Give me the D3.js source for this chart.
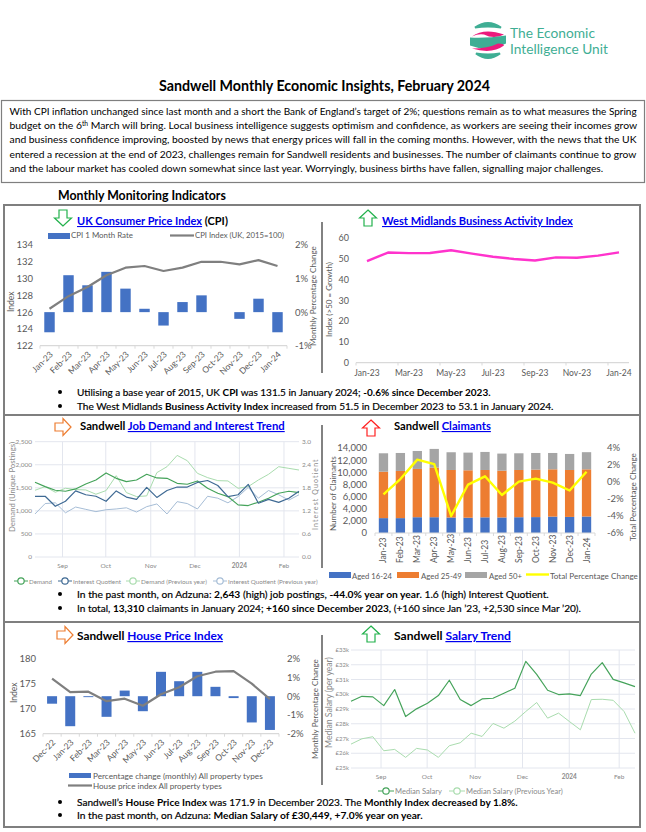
<!DOCTYPE html>
<html><head><meta charset="utf-8">
<script src="https://cdn.jsdelivr.net/npm/d3@7"></script>
<style>html,body{margin:0;background:#fff}svg{display:block}text{font-family:Lato,"Open Sans",sans-serif}</style>
</head><body><svg id="c" width="646" height="832"></svg>
<script>
const monthsA=["Jan-23","Feb-23","Mar-23","Apr-23","May-23","Jun-23","Jul-23","Aug-23","Sep-23","Oct-23","Nov-23","Dec-23","Jan-24"];
const monthsB=["Dec-22","Jan-23","Feb-23","Mar-23","Apr-23","May-23","Jun-23","Jul-23","Aug-23","Sep-23","Oct-23","Nov-23","Dec-23"];
const cpiRate=[-0.6,1.1,0.8,1.2,0.7,0.1,-0.4,0.3,0.5,0,-0.2,0.4,-0.6];
const cpiIndex=[126.4,127.9,129.0,130.4,131.3,131.5,130.9,131.3,132.0,132.0,131.7,132.2,131.5];
const activity=[48.9,53,52.7,52.8,54.1,52.5,51,49.9,49.2,50.7,50.5,51.5,53.1];
const demand=[1620,1526,1447,1426,1476,1584,1670,1822,1706,1634,1670,1793,1714,1706,1598,1577,1649,1490,1382,1310,1130,1116,1188,1274,1382,1426,1397];
const demandPrev=[1447,1526,1404,1490,1462,1454,1361,1440,1764,1397,1310,1325,1829,1958,2203,2088,1814,1721,1656,1649,1490,1526,1670,1793,1958,1922,1886];
const quotient=[1.58,1.58,1.32,1.45,1.72,1.62,1.58,1.45,1.72,1.56,1.50,1.81,1.55,1.73,1.82,1.82,1.94,1.99,1.86,1.57,1.62,1.89,1.40,1.50,1.42,1.53,1.71];
const quotientPrev=[1.12,1.39,1.41,1.15,1.30,1.24,1.18,1.23,1.25,1.28,1.17,1.31,1.38,1.12,1.44,1.39,1.25,1.58,1.53,1.41,1.57,1.81,1.53,1.73,1.62,1.48,1.62];
const aged1624=[2450,2450,2600,2600,2550,2520,2580,2560,2600,2620,2700,2650,2720];
const aged2549=[7650,7770,7950,8170,7830,7810,7800,7710,7780,7820,7790,7730,7770];
const aged50=[3030,2960,2960,3080,2920,2910,2970,2810,2750,2740,2690,2640,2820];
const claimPct=[-1.45,0.35,2.63,2.1,-4.0,-0.3,0.67,-1.53,0.04,0.4,-0.08,-1.0,1.2];
const hpiPct=[-0.4,-1.6,-0.05,-1.1,0.3,-0.8,1.3,0.8,1.3,0.5,-0.1,-1.4,-1.8];
const hpiIndex=[176,173.3,173.4,171.5,172,170.6,172.9,174.3,176.5,177.4,177.5,175,171.9];
const salary=[29.53,29.86,29.82,29.23,30.32,28.49,29.01,29.39,29.91,30.95,29.64,29.23,29.68,29.73,30.07,30.41,32.23,31.35,30.27,29.98,30.02,29.91,31.37,32.14,31.01,30.77,30.52];
const salaryPrev=[26.62,26.98,27.12,26.17,26.26,25.72,26.33,26.22,25.72,26.51,26.71,27.36,27.14,28.02,27.70,28.18,28.83,29.44,28.38,28.72,28.15,27.59,29.64,29.66,29.59,28.83,27.36];
const weeklyMonths=["Sep","Oct","Nov","Dec","2024","Feb"];
const paragraph=[["With CPI inflation unchanged since last month and a short the Bank of England\u2019s target of 2%; questions remain as to what measures the Spring"],
["budget on the 6","th"," March will bring. Local business intelligence suggests optimism and confidence, as workers are seeing their incomes grow"],
["and business confidence improving, boosted by news that energy prices will fall in the coming months. However, with the news that the UK"],
["entered a recession at the end of 2023, challenges remain for Sandwell residents and businesses. The number of claimants continue to grow"],
["and the labour market has cooled down somewhat since last year. Worryingly, business births have fallen, signalling major challenges."]];

const svg=d3.select("#c");
const GREY="#595959",BLUE="#4472c4",ORANGE="#ed7d31",LGREY="#a5a5a5",LINE="#7f7f7f",AX="#d9d9d9";
const DG="#45a35a",LG="#a9dcae",DB="#3f6a94",LB="#a6bdd6",GRID="#e3e6ee";
function fit(t,size,len){ if(!len) return; const w=t.node().getComputedTextLength(); const s=size*len/w; t.attr("font-size",s);
  t.selectAll("tspan.sup").attr("font-size",s*.65); }
function T(x,y,s,o={}){const size=o.size||10;const t=svg.append("text").attr("x",x).attr("y",y).text(s)
  .attr("font-size",size).attr("fill",o.fill||GREY).attr("font-weight",o.w||400).attr("text-anchor",o.a||"start");
  if(o.rot!=null)t.attr("transform",`rotate(${o.rot},${x},${y})`);
  fit(t,size,o.len);return t;}
function rich(x,y,parts,size,len,heavy){const t=svg.append("text").attr("x",x).attr("y",y).attr("font-size",size).attr("fill","#000");
  parts.forEach(p=>{const s=t.append("tspan").text(p[0]).attr("font-weight",p[1]?700:400);
   if(p[2]){s.attr("fill","#0000ee").attr("text-decoration","underline");}
   if(heavy&&!p[1]){s.attr("stroke","#000").attr("stroke-width",.18);}});
  fit(t,size,len);return t;}
function arrow(cx,cy,dir,col){const p=[[0,-8],[8.5,0],[4,0],[4,8],[-4,8],[-4,0],[-8.5,0]];
  svg.append("polygon").attr("points",p.map(q=>q.join(",")).join(" "))
   .attr("transform",`translate(${cx},${cy}) rotate(${dir})`).attr("fill","#fff").attr("stroke",col).attr("stroke-width",1.2);}
function panel(x,y,w,h){svg.append("rect").attr("x",x).attr("y",y).attr("width",w).attr("height",h).attr("fill","none").attr("stroke","#7f7f7f").attr("stroke-width",2);}
function divider(y1,y2){svg.append("line").attr("x1",322).attr("x2",322).attr("y1",y1).attr("y2",y2).attr("stroke","#595959").attr("stroke-width",1.5);}
function bullet(y,parts,len){svg.append("circle").attr("cx",60).attr("cy",y-4).attr("r",2).attr("fill","#000");rich(77,y,parts,11,len,true);}
function ticksL(sc,vals,x,fmt,size,fill){vals.forEach(v=>T(x,sc(v)+size*.36,fmt(v),{a:"end",size,fill:fill||GREY}));}
function ticksR(sc,vals,x,fmt,size,fill){vals.forEach(v=>T(x,sc(v)+size*.36,fmt(v),{size,fill:fill||GREY}));}
function baseAxis(x,y0,n){
  svg.append("line").attr("x1",x.range()[0]).attr("x2",x.range()[1]).attr("y1",y0).attr("y2",y0).attr("stroke",AX).attr("stroke-width",1.2);
  d3.range(n+1).forEach(i=>{const px=x.range()[0]+i*x.step();
   svg.append("line").attr("x1",px).attr("x2",px).attr("y1",y0).attr("y2",y0+3).attr("stroke",AX);});
}
function bars(cats,vals,x,y,col){
  svg.append("g").selectAll("rect").data(vals).join("rect")
   .attr("x",(d,i)=>x(cats[i])).attr("width",x.bandwidth())
   .attr("y",d=>y(Math.max(0,d))).attr("height",d=>Math.abs(y(d)-y(0))).attr("fill",col);}
function trace(xf,yf,vals,col,w){
  svg.append("path").datum(vals).attr("fill","none").attr("stroke",col).attr("stroke-width",w).attr("stroke-linejoin","round")
   .attr("d",d3.line().x((d,i)=>xf(i)).y(d=>yf(d)));}
function legendDot(x,y,col,label,off,len){
  svg.append("line").attr("x1",x).attr("x2",x+off-1).attr("y1",y).attr("y2",y).attr("stroke",col).attr("stroke-width",1);
  svg.append("circle").attr("cx",x+(off-1)/2).attr("cy",y).attr("r",3.2).attr("fill","#fff").attr("stroke",col).attr("stroke-width",1.2);
  T(x+off,y+2.5,label,{size:7,fill:"#8a8a8a",len});}
const pct=v=>v+"%";

// page head
const lg=svg.append("g").attr("transform","translate(488,40.5)");
lg.append("path").attr("d","M-13,-13 Q0,-22 13,-13 Q0,-15 -13,-13Z").attr("fill","#3fae94").attr("stroke","#3fae94").attr("stroke-width",2);
lg.append("path").attr("d","M-16,-4 Q-4,-13 16,-6 Q6,-1 -4,-6 Q-10,-7 -16,-4Z").attr("fill","#ec1b7c");
lg.append("path").attr("d","M-18,-3 Q-2,-2 18,-5 L18,3 Q0,12 -18,5Z").attr("fill","#3fae94");
lg.append("path").attr("d","M-16,8 Q0,8 10,3 Q16,3 16,5 Q4,14 -16,8Z").attr("fill","#ec1b7c");
lg.append("path").attr("d","M-12,13 Q0,15 12,13 Q0,22 -12,13Z").attr("fill","#3fae94").attr("stroke","#3fae94").attr("stroke-width",2);
T(510,38,"The Economic",{size:13,fill:"#3fae94",len:85});
T(510,54,"Intelligence Unit",{size:13,fill:"#3fae94",len:98});
T(159,91,"Sandwell Monthly Economic Insights, February 2024",{size:14.5,w:700,fill:"#000",len:331});
svg.append("rect").attr("x",1.5).attr("y",100.5).attr("width",643).attr("height",82).attr("fill","none").attr("stroke","#7f7f7f").attr("stroke-width",1.2);
const paraY=[115,129,143,158,172],paraLen=[628,628,628,628,594];
paragraph.forEach((l,i)=>{const t=svg.append("text").attr("x",9.5).attr("y",paraY[i]).attr("font-size",10.5).attr("fill","#000");
  l.forEach((s,k)=>{const sp=t.append("tspan").text(s);
    if(k==1) sp.classed("sup",true).attr("dy",-3).attr("font-size",7);
    if(k==2) sp.attr("dy",3);});
  fit(t,10.5,paraLen[i]);});
T(58,200,"Monthly Monitoring Indicators",{size:12.5,w:700,fill:"#000",len:168});
panel(4,205,636,210);panel(4,415,636,207);panel(4,622,636,205);
divider(222,373);divider(425,568);divider(635,785);

// CPI
{
 const x=d3.scaleBand().domain(monthsA).range([40,287]).paddingInner(.45).paddingOuter(.225);
 const yL=d3.scaleLinear().domain([122,134]).range([345.7,245]);
 const yR=d3.scaleLinear().domain([-1,2]).range([345.7,245]);
 bars(monthsA,cpiRate,x,yR,BLUE);
 baseAxis(x,345.7,13);
 trace(i=>x(monthsA[i])+x.bandwidth()/2,yL,cpiIndex,LINE,2.2);
 ticksL(yL,d3.range(122,135,2),33,d=>d,9.5);
 ticksR(yR,[-1,0,1,2],295,pct,9.5);
 monthsA.forEach(m=>T(x(m)+x.bandwidth()/2+4,355,m,{size:8.5,a:"end",rot:-45}));
 T(14,312,"Index",{size:8.5,rot:-90});
 T(316,346,"Monthly Percentage Change",{size:8.5,rot:-90,len:100});
 svg.append("rect").attr("x",48).attr("y",233).attr("width",22).attr("height",6).attr("fill",BLUE);
 T(71,238,"CPI 1 Month Rate",{size:8,len:62});
 svg.append("line").attr("x1",170).attr("x2",194).attr("y1",235.5).attr("y2",235.5).attr("stroke",LINE).attr("stroke-width",2.2);
 T(195,238,"CPI Index (UK, 2015=100)",{size:8,len:89});
 arrow(63,218,180,"#22b14c");
 rich(77,225,[["UK Consumer Price Index",1,1],[" (CPI)",1]],12,151);
}
// Business activity
{
 const x=d3.scalePoint().domain(monthsA).range([367,619]);
 const y=d3.scaleLinear().domain([0,60]).range([362.7,238]);
 trace(i=>x(monthsA[i]),y,activity,"#ff33cc",2.4);
 svg.append("line").attr("x1",356).attr("x2",629).attr("y1",362.7).attr("y2",362.7).attr("stroke",AX).attr("stroke-width",1.2);
 d3.range(0,14,2).forEach(i=>{const px=356+i*273/13;svg.append("line").attr("x1",px).attr("x2",px).attr("y1",362.7).attr("y2",365.5).attr("stroke",AX);});
 ticksL(y,d3.range(0,61,10),349,d=>d,9);
 monthsA.filter((m,i)=>i%2==0).forEach(m=>T(x(m),376,m,{size:8.5,a:"middle"}));
 T(332,337,"Index (>50 = Growth)",{size:8,rot:-90,len:75});
 arrow(368,218,0,"#22b14c");
 rich(382,225,[["West Midlands Business Activity Index",1,1]],12,191);
}
bullet(396,[["Utilising a base year of 2015, UK ",0],["CPI",1],[" was 131.5 in January 2024; ",0],["-0.6% since December 2023.",1]],414);
bullet(410,[["The West Midlands ",0],["Business Activity Index",1],[" increased from 51.5 in December 2023 to 53.1 in January 2024.",0]],477);

// Job demand
{
 const x=d3.scaleLinear().domain([0,26]).range([35,299]);
 const yL=d3.scaleLinear().domain([0,2500]).range([557,441.7]);
 const yR=d3.scaleLinear().domain([0,3]).range([557,441.7]);
 d3.range(0,2501,500).forEach(v=>svg.append("line").attr("x1",35).attr("x2",299).attr("y1",yL(v)).attr("y2",yL(v)).attr("stroke",GRID));
 const mp=[2.71,6.97,11.4,15.75,20.13,24.52];
 mp.forEach((w,i)=>{svg.append("line").attr("x1",x(w)).attr("x2",x(w)).attr("y1",441.7).attr("y2",557).attr("stroke",GRID);
  T(x(w),568,weeklyMonths[i],{size:6.5,a:"middle",fill:"#8a8a8a",w:i==4?700:400});});
 const Xi=i=>x(i);
 trace(Xi,yL,demandPrev,LG,1);
 trace(Xi,yR,quotientPrev,LB,1);
 trace(Xi,yL,demand,DG,1.2);
 trace(Xi,yR,quotient,DB,1.2);
 ticksL(yL,d3.range(0,2501,500),32,d3.format(","),6.5,"#8a8a8a");
 ticksR(yR,[0,.6,1.2,1.8,2.4,3],302,d=>d.toFixed(1),6.5,"#8a8a8a");
 T(15,532,"Demand (Unique Postings)",{size:6.5,rot:-90,fill:"#8a8a8a",len:90});
 T(318,530,"Interest Quotient",{size:7,rot:-90,fill:"#8a8a8a"}).attr("letter-spacing",1.1);
 legendDot(14,581,DG,"Demand",15,23);
 legendDot(58,581,DB,"Interest Quotient",15,48);
 legendDot(126,581,LG,"Demand (Previous year)",15,66);
 legendDot(213,581,LB,"Interest Quotient (Previous year)",15,90);
 arrow(63,427,90,"#ed7d31");
 rich(80,430,[["Sandwell ",1],["Job Demand and Interest Trend",1,1]],12,205);
}
// Claimants
{
 const x=d3.scaleBand().domain(monthsA).range([375,595]).paddingInner(.45).paddingOuter(.225);
 const yL=d3.scaleLinear().domain([0,14000]).range([533,448]);
 const yR=d3.scaleLinear().domain([-6,4]).range([533,448]);
 const rows=monthsA.map((m,i)=>({m,a:aged1624[i],b:aged2549[i],c:aged50[i]}));
 const st=d3.stack().keys(["a","b","c"])(rows);
 const cols=[BLUE,ORANGE,LGREY];
 st.forEach((s,k)=>svg.append("g").selectAll("rect").data(s).join("rect")
  .attr("x",d=>x(d.data.m)).attr("width",x.bandwidth()).attr("y",d=>yL(d[1])).attr("height",d=>yL(d[0])-yL(d[1])).attr("fill",cols[k]));
 baseAxis(x,533,13);
 trace(i=>x(monthsA[i])+x.bandwidth()/2,yR,claimPct,"#ffff00",2.4);
 ticksL(yL,d3.range(0,14001,2000),367,d3.format(","),9.5);
 ticksR(yR,[-6,-4,-2,0,2,4],607,pct,9.5);
 monthsA.forEach(m=>T(x(m)+x.bandwidth()/2+3,563,m,{size:8.5,rot:-90}));
 T(336,531,"Number of Claimants",{size:8.5,rot:-90,len:75});
 T(636,541,"Total Percentage Change",{size:8.5,rot:-90,len:88});
 [[329,BLUE,"Aged 16-24",352,40],[397,ORANGE,"Aged 25-49",421,41],[465,LGREY,"Aged 50+",489,33]].forEach(l=>{
  svg.append("rect").attr("x",l[0]).attr("y",572).attr("width",22).attr("height",6).attr("fill",l[1]);
  T(l[3],578.5,l[2],{size:8.5,len:l[4]});});
 svg.append("line").attr("x1",526).attr("x2",549).attr("y1",574.5).attr("y2",574.5).attr("stroke","#ffff00").attr("stroke-width",2.4);
 T(550,578.5,"Total Percentage Change",{size:8.5,len:88});
 arrow(371,428,0,"#ff2020");
 rich(394,430,[["Sandwell ",1],["Claimants",1,1]],12,97);
}
bullet(598,[["In the past month, on Adzuna: ",0],["2,643",1],[" (high) job postings, ",0],["-44.0% year on year.",1],[" 1.6 (high) Interest Quotient.",0]],472);
bullet(612,[["In total, ",0],["13,310",1],[" claimants in January 2024; ",0],["+160 since December 2023,",1],[" (+160 since Jan \u201923, +2,530 since Mar \u201920).",0]],505);

// House price
{
 const x=d3.scaleBand().domain(monthsB).range([43,279]).paddingInner(.45).paddingOuter(.225);
 const yL=d3.scaleLinear().domain([165,180]).range([733.7,658.7]);
 const yR=d3.scaleLinear().domain([-2,2]).range([733.7,658.7]);
 bars(monthsB,hpiPct,x,yR,BLUE);
 baseAxis(x,733.7,13);
 trace(i=>x(monthsB[i])+x.bandwidth()/2,yL,hpiIndex,LINE,2.2);
 ticksL(yL,[165,170,175,180],36,d=>d,9.5);
 ticksR(yR,[-2,-1,0,1,2],287,pct,9.5);
 monthsB.forEach(m=>T(x(m)+x.bandwidth()/2+4,743,m,{size:8.5,a:"end",rot:-45}));
 T(17,703,"Index",{size:8.5,rot:-90});
 T(318,759,"Monthly Percentage Change",{size:8.5,rot:-90,len:100});
 svg.append("rect").attr("x",69).attr("y",773).attr("width",22).attr("height",5).attr("fill",BLUE);
 T(93,778.5,"Percentage change (monthly) All property types",{size:8,len:170});
 svg.append("line").attr("x1",68).attr("x2",92).attr("y1",785.5).attr("y2",785.5).attr("stroke",LINE).attr("stroke-width",2.2);
 T(93,788.5,"House price index All property types",{size:8,len:129});
 arrow(65,635,90,"#ed7d31");
 rich(77,640,[["Sandwell ",1],["House Price Index",1,1]],12,146);
}
// Salary
{
 const x=d3.scaleLinear().domain([0,26]).range([351,635]);
 const y=d3.scaleLinear().domain([25,33]).range([768,650]);
 d3.range(25,34).forEach(v=>{svg.append("line").attr("x1",351).attr("x2",635).attr("y1",y(v)).attr("y2",y(v)).attr("stroke",GRID);
  T(349,y(v)+2,"\u00a3"+v+"k",{size:6,a:"end",fill:"#8a8a8a"});});
 const mp=[2.75,6.97,11.37,15.7,19.98,24.55];
 mp.forEach((w,i)=>{svg.append("line").attr("x1",x(w)).attr("x2",x(w)).attr("y1",650).attr("y2",768).attr("stroke",GRID);
  T(x(w),779,weeklyMonths[i],{size:6.5,a:"middle",fill:"#8a8a8a",w:i==4?700:400});});
 trace(i=>x(i),y,salaryPrev,LG,1);
 trace(i=>x(i),y,salary,DG,1.2);
 T(332,748,"Median Salary (per year)",{size:6.5,rot:-90,fill:"#8a8a8a",len:91});
 legendDot(378,791,DG,"Median Salary",17,47);
 legendDot(449,791,LG,"Median Salary (Previous Year)",17,97);
 arrow(371,634,0,"#22b14c");
 rich(394,640,[["Sandwell ",1],["Salary Trend",1,1]],12,117);
}
bullet(806,[["Sandwell\u2019s ",0],["House Price Index",1],[" was 171.9 in December 2023. The ",0],["Monthly Index decreased by 1.8%.",1]],441);
bullet(819,[["In the past month, on Adzuna: ",0],["Median Salary of \u00a330,449, +7.0% year on year.",1]],346);
</script></body></html>
